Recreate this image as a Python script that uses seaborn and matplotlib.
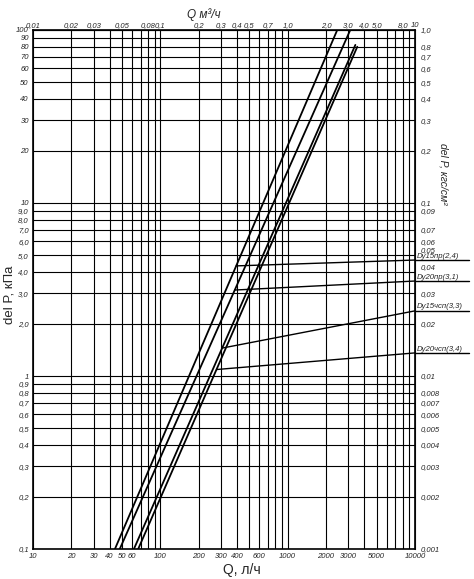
import numpy as np
import pandas as pd
import matplotlib
matplotlib.use('Agg')
import matplotlib.pyplot as plt
import matplotlib.transforms as mtransforms
from matplotlib.ticker import NullLocator, LogLocator
import seaborn as sns

# =====================
# DATA
# =====================
curve_names = ['Dу15пр', 'Dу20пр', 'Dу15чсп', 'Dу20чсп']
kv_labels   = ['(2,4)', '(3,1)', '(3,3)', '(3,4)']
q_bottom    = [44, 48, 62, 67]          # л/ч at the lower end
dp_bottom   = [0.1, 0.1, 0.1, 0.1]      # кПа
q_top       = [2450, 3100, 3400, 3520]  # л/ч at the upper end
dp_top      = [100, 100, 82, 80]        # кПа

lead_dp  = [4.33, 3.14, 1.45, 1.09]     # where the leader leaves the curve
label_dp = [4.68, 3.54, 2.38, 1.36]     # where the leader meets the right axis

x_ticks  = [10, 20, 30, 40, 50, 60, 100, 200, 300, 400, 600, 1000, 2000, 3000, 5000, 10000]
x_labels = ['10', '20', '30', '40', '50', '60', '100', '200', '300', '400', '600',
            '1000', '2000', '3000', '5000', '10000']
y_ticks  = [0.1, 0.2, 0.3, 0.4, 0.5, 0.6, 0.7, 0.8, 0.9, 1, 2, 3, 4, 5, 6, 7, 8, 9,
            10, 20, 30, 40, 50, 60, 70, 80, 90, 100]
y_labels = ['0,1', '0,2', '0,3', '0,4', '0,5', '0,6', '0,7', '0,8', '0,9', '1',
            '2,0', '3,0', '4,0', '5,0', '6,0', '7,0', '8,0', '9,0',
            '10', '20', '30', '40', '50', '60', '70', '80', '90', '100']
top_ticks  = [0.01, 0.02, 0.03, 0.05, 0.08, 0.1, 0.2, 0.3, 0.4, 0.5, 0.7, 1, 2, 3, 4, 5, 8, 10]
top_labels = ['0,01', '0,02', '0,03', '0,05', '0,08', '0,1', '0,2', '0,3', '0,4', '0,5',
              '0,7', '1,0', '2,0', '3,0', '4,0', '5,0', '8,0', '10']
right_ticks  = [1.0, 0.8, 0.7, 0.6, 0.5, 0.4, 0.3, 0.2, 0.1, 0.09, 0.07, 0.06, 0.05, 0.04,
                0.03, 0.02, 0.01, 0.008, 0.007, 0.006, 0.005, 0.004, 0.003, 0.002, 0.001]
right_labels = ['1,0', '0,8', '0,7', '0,6', '0,5', '0,4', '0,3', '0,2', '0,1', '0,09',
                '0,07', '0,06', '0,05', '0,04', '0,03', '0,02', '0,01', '0,008', '0,007',
                '0,006', '0,005', '0,004', '0,003', '0,002', '0,001']

# =====================
# STYLE
# =====================
sns.set_style('white')
plt.rcParams['font.family'] = ['Liberation Sans', 'DejaVu Sans']

df = pd.DataFrame({
    'curve': np.repeat(curve_names, 2),
    'Q': np.ravel(np.column_stack([q_bottom, q_top])),
    'dP': np.ravel(np.column_stack([dp_bottom, dp_top])),
})

fig = plt.figure(figsize=(4.74, 5.79), dpi=100)
ax = fig.add_axes([0.0696, 0.0518, 0.806, 0.8964])
ax.set_xscale('log')
ax.set_yscale('log')

sns.lineplot(data=df, x='Q', y='dP', hue='curve', palette=['black'] * 4,
             legend=False, lw=1.3, ax=ax, sort=False)

ax.set_xlim(10, 10000)
ax.set_ylim(0.1, 100)

# grid: every 1..9 in each decade
ax.xaxis.set_minor_locator(LogLocator(base=10, subs=np.arange(2, 10)))
ax.yaxis.set_minor_locator(LogLocator(base=10, subs=np.arange(2, 10)))
ax.grid(True, which='both', color='black', lw=0.8)
for s in ax.spines.values():
    s.set_color('black')
    s.set_linewidth(1.2)

tick_font = dict(fontsize=5.5, fontstyle='italic')
ax.set_xticks(x_ticks, labels=x_labels, **tick_font)
ax.set_yticks(y_ticks, labels=y_labels, **tick_font)
ax.tick_params(which='both', length=0, pad=3)
ax.set_xlabel('')
ax.set_ylabel('')
fig.text(0.51, 0.016, 'Q, л/ч', fontsize=10, ha='center', va='center')
fig.text(0.021, 0.49, 'del P, кПа', fontsize=9.5, rotation=90, ha='center', va='center')

# top axis: м³/ч
top = ax.secondary_xaxis('top', functions=(lambda q: q / 1000, lambda q: q * 1000))
top.set_xticks(top_ticks, labels=top_labels, fontsize=5.5, fontstyle='italic')
top.xaxis.set_minor_locator(NullLocator())
top.tick_params(length=0, pad=1)
fig.text(0.43, 0.975, 'Q м³/ч', fontsize=8.5, fontstyle='italic', ha='center', va='center')

# right axis: кгс/см²
right = ax.secondary_yaxis('right', functions=(lambda p: p / 100, lambda p: p * 100))
right.set_yticks(right_ticks, labels=right_labels, fontsize=5.5, fontstyle='italic')
right.yaxis.set_minor_locator(NullLocator())
right.tick_params(length=0, pad=4)
# in the scan 0,05 and 0,04 sit a little above their lines, over the leader labels
lift = mtransforms.ScaledTranslation(0, 4 / 72, fig.dpi_scale_trans)
for t in right.get_yticklabels():
    if t.get_text() in ('0,05', '0,04'):
        t.set_transform(t.get_transform() + lift)
fig.text(0.935, 0.70, 'del P, кгс/см²', fontsize=7.5, fontstyle='italic',
         rotation=-90, ha='center', va='center')

# leader lines from the curves to the labels on the right
blend = mtransforms.blended_transform_factory(ax.transAxes, ax.transData)
for i, name in enumerate(curve_names):
    lq = np.log10([q_bottom[i], q_top[i]])
    lp = np.log10([dp_bottom[i], dp_top[i]])
    q0 = 10 ** np.interp(np.log10(lead_dp[i]), lp, lq)
    ax.plot([q0, 10000], [lead_dp[i], label_dp[i]], color='black', lw=1.0, clip_on=False)
    ax.plot([1.0, 1.14], [label_dp[i], label_dp[i]], color='black', lw=1.0,
            transform=blend, clip_on=False)
    ax.text(1.005, label_dp[i] * 1.005, name + kv_labels[i], transform=blend,
            fontsize=5.6, fontstyle='italic', ha='left', va='bottom')

fig.savefig('out.png', dpi=100, facecolor='white')
